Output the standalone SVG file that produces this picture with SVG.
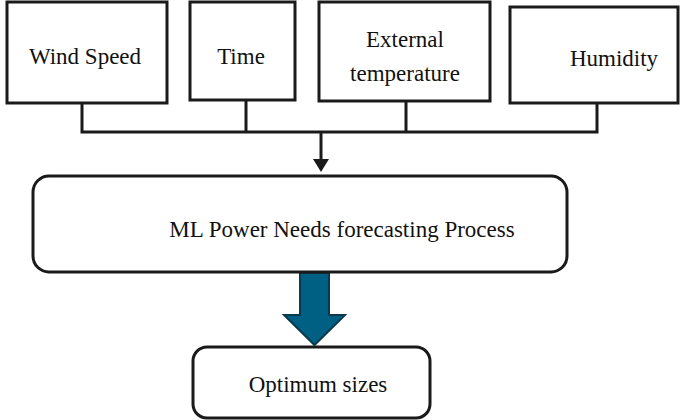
<svg xmlns="http://www.w3.org/2000/svg" width="685" height="420" viewBox="0 0 685 420">
<style>
.b{fill:#fff;stroke:#1a1a1a;stroke-width:3}
.t{font-family:"Liberation Serif",serif;font-size:23px;fill:#111;text-anchor:middle}
.c{fill:none;stroke:#1a1a1a;stroke-width:3}
</style>
<rect width="685" height="420" fill="#fff"/>
<g id="connectors">
<path class="c" d="M82,103 V132 H597 V103 M246,100 V132 M406,101 V132"/>
<path class="c" d="M321,132 V164"/>
<path d="M313,159 L329,159 L321,172z" fill="#1a1a1a"/>
<path d="M300,273 H329 V315 H345 L314.5,345 L284,315 H300z" fill="#006083" stroke="#0b3a4f" stroke-width="2"/>
</g>
<g id="wind"><rect class="b" x="7" y="2" width="160" height="101"/><text class="t" x="85" y="64">Wind Speed</text></g>
<g id="time"><rect class="b" x="190" y="2" width="105" height="98"/><text class="t" x="241" y="64">Time</text></g>
<g id="ext"><rect class="b" x="319" y="2" width="171" height="99"/><text class="t" x="405" y="47">External</text><text class="t" x="405" y="81">temperature</text></g>
<g id="hum"><rect class="b" x="510" y="7" width="168" height="96"/><text class="t" x="614" y="66">Humidity</text></g>
<g id="ml"><rect class="b" x="33" y="176" width="534" height="96" rx="16"/><text class="t" x="342" y="237">ML Power Needs forecasting Process</text></g>
<g id="opt"><rect class="b" x="193" y="347" width="237" height="71" rx="14"/><text class="t" x="318" y="392">Optimum sizes</text></g>
</svg>
